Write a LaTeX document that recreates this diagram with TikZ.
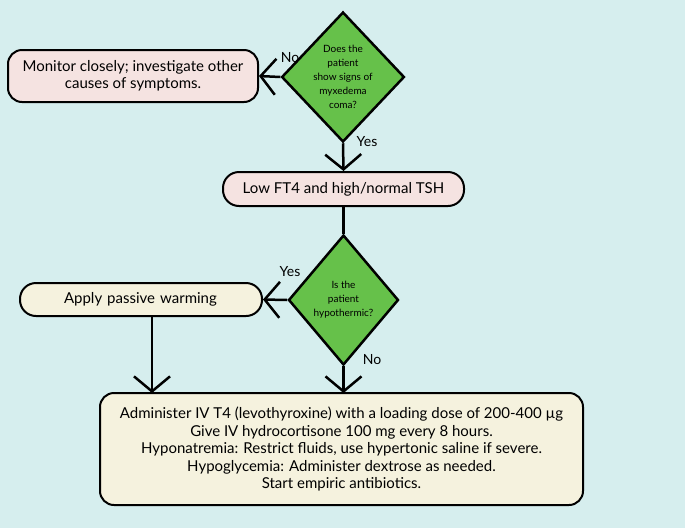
\documentclass[tikz,border=0pt]{standalone}
\usepackage{fontspec}
\setmainfont{Lato}
\usetikzlibrary{shapes.geometric,arrows.meta}
\definecolor{bg}{HTML}{D6EEEE}
\definecolor{grn}{HTML}{66C14A}
\definecolor{pnk}{HTML}{F5E3E1}
\definecolor{bge}{HTML}{F5F2DE}
\begin{document}
\begin{tikzpicture}[x=1pt,y=-1pt,
  box/.style={draw,line width=2pt,rounded corners=14pt,align=center,font=\fontsize{15}{17.5}\selectfont,inner sep=0pt},
  dia/.style={draw,line width=2.5pt,fill=grn,diamond,inner sep=0pt,align=center,font=\fontsize{10}{14}\selectfont},
  arr/.style={line width=2.5pt,-{Straight Barb[length=15pt,width=36pt,line width=2.5pt]}},
  lab/.style={font=\fontsize{14}{16}\selectfont}]
\fill[bg] (0,0) rectangle (685,528);
\useasboundingbox (0,0) rectangle (685,528);
\node[dia,minimum width=104pt,minimum height=130pt] (d1) at (343,77) {Does the\\patient\\show signs of\\myxedema\\coma?};
\node[box,fill=pnk,minimum width=250pt,minimum height=52pt] (m) at (133,76) {Monitor closely; investigate other\\causes of symptoms.};
\node[box,fill=pnk,rounded corners=16pt,minimum width=241pt,minimum height=34pt] (f) at (343.5,189) {Low FT4 and high/normal TSH};
\node[dia,minimum width=110pt,minimum height=130pt] (d2) at (343.5,300) {Is the\\patient\\hypothermic?};
\node[box,fill=bge,rounded corners=16pt,minimum width=242pt,minimum height=33pt,text width=230pt,align=left] (a) at (141,299.5) {\hspace*{38pt}Apply passive warming};
\node[box,fill=bge,minimum width=483pt,minimum height=112pt] (b) at (341.5,449) {Administer IV T4 (levothyroxine) with a loading dose of 200-400 µg\\Give IV hydrocortisone 100 mg every 8 hours.\\Hyponatremia: Restrict fluids, use hypertonic saline if severe.\\Hypoglycemia: Administer dextrose as needed.\\Start empiric antibiotics.};
\draw[arr] (d1.west) -- (m.east);
\draw[arr] (d1.south) -- (f.north);
\draw[line width=2.5pt] (f.south) -- (d2.north);
\draw[arr] (d2.west) -- (a.east);
\draw[arr] (d2.south) -- (343.5,393);
\draw[arr] (152,316) -- (152,393);
\node[lab] (l1) at (290,58) {No};
\node[lab] (l2) at (367,142) {Yes};
\node[lab] (l3) at (290,272) {Yes};
\node[lab] (l4) at (372,360) {No};
\end{tikzpicture}
\end{document}
